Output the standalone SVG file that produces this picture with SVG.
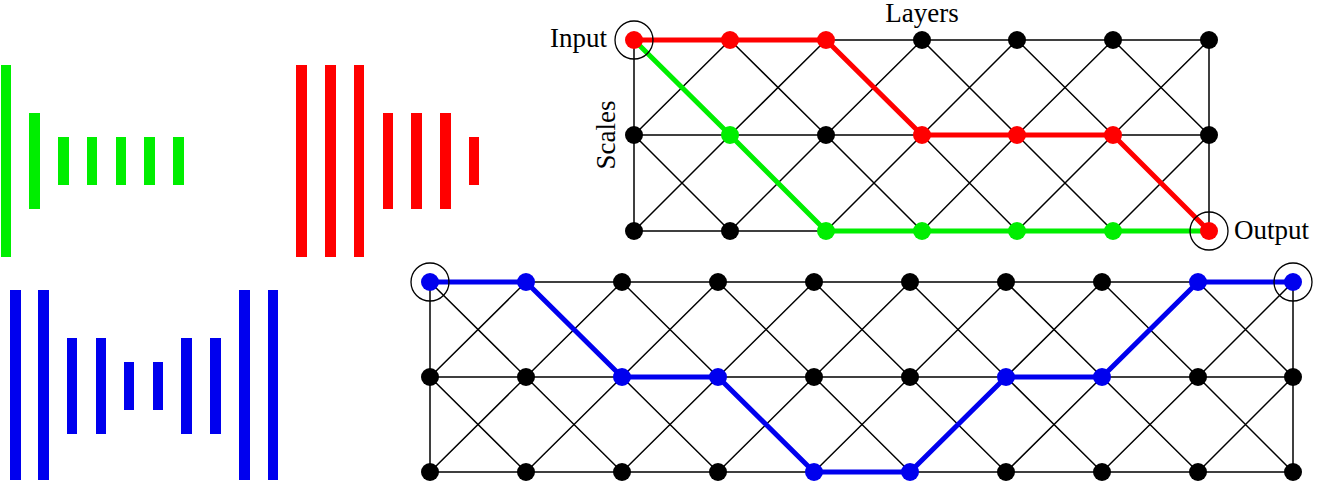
<svg xmlns="http://www.w3.org/2000/svg" width="1329" height="485" viewBox="0 0 1329 485">
<style>
.g{fill:#00ee00}.r{fill:#ff0000}.b{fill:#0000ee}.k{fill:#000}
.ln{fill:none;stroke:#000;stroke-width:1.5}
.ring{fill:none;stroke:#000;stroke-width:1.3}
.pr{fill:none;stroke:#ff0000;stroke-width:5;stroke-linejoin:round}
.pg{fill:none;stroke:#00ee00;stroke-width:5;stroke-linejoin:round}
.pb{fill:none;stroke:#0000ee;stroke-width:5;stroke-linejoin:round}
text{font-family:"Liberation Serif",serif;font-size:27px;fill:#000}
</style>
<g id="bars-green" class="g">
<rect x="1" y="65" width="10" height="192"/><rect x="29" y="113" width="11" height="96"/>
<rect x="58" y="137" width="11" height="48"/><rect x="87" y="137" width="10" height="48"/><rect x="116" y="137" width="10" height="48"/><rect x="144" y="137" width="11" height="48"/><rect x="173" y="137" width="11" height="48"/>
</g>
<g id="bars-red" class="r">
<rect x="296" y="65" width="11" height="192"/><rect x="325" y="65" width="11" height="192"/><rect x="354" y="65" width="10" height="192"/>
<rect x="383" y="113" width="10" height="96"/><rect x="411" y="113" width="11" height="96"/><rect x="440" y="113" width="11" height="96"/>
<rect x="469" y="137" width="10" height="48"/>
</g>
<g id="bars-blue" class="b">
<rect x="10" y="290" width="11" height="190"/><rect x="38" y="290" width="11" height="190"/>
<rect x="67" y="338" width="10" height="96"/><rect x="96" y="338" width="10" height="96"/>
<rect x="124" y="362" width="10" height="48"/><rect x="153" y="362" width="10" height="48"/>
<rect x="181" y="338" width="11" height="96"/><rect x="210" y="338" width="11" height="96"/>
<rect x="239" y="290" width="11" height="190"/><rect x="268" y="290" width="10" height="190"/>
</g>
<g id="connectors">
<path class="ln" d="M634 40H1209M634 135H1209M634 231H1209M634 40V231M1209 40V231
M634 40L730 135L826 40L922 135L1017 40L1113 135L1209 40
M634 135L730 40L826 135L922 40L1017 135L1113 40L1209 135
M634 135L730 231L826 135L922 231L1017 135L1113 231L1209 135
M634 231L730 135L826 231L922 135L1017 231L1113 135L1209 231"/>
<path class="ln" d="M430 282H1293M430 377H1293M430 472H1293M430 282V472M1293 282V472
M430 282L526 377L622 282L718 377L814 282L910 377L1006 282L1102 377L1198 282L1293 377
M430 377L526 282L622 377L718 282L814 377L910 282L1006 377L1102 282L1198 377L1293 282
M430 377L526 472L622 377L718 472L814 377L910 472L1006 377L1102 472L1198 377L1293 472
M430 472L526 377L622 472L718 377L814 472L910 377L1006 472L1102 377L1198 472L1293 377"/>
<path class="pg" d="M634 40L730 135L826 231L1209 231"/>
<path class="pr" d="M634 40L826 40L922 135L1113 135L1209 231"/>
<path class="pb" d="M430 282L526 282L622 377L718 377L814 472L910 472L1006 377L1102 377L1198 282L1293 282"/>
</g>
<g id="nodes-top">
<circle class="r" cx="634" cy="40" r="9"/><circle class="r" cx="730" cy="40" r="9"/><circle class="r" cx="826" cy="40" r="9"/><circle class="k" cx="922" cy="40" r="9"/><circle class="k" cx="1017" cy="40" r="9"/><circle class="k" cx="1113" cy="40" r="9"/><circle class="k" cx="1209" cy="40" r="9"/>
<circle class="k" cx="634" cy="135" r="9"/><circle class="g" cx="730" cy="135" r="9"/><circle class="k" cx="826" cy="135" r="9"/><circle class="r" cx="922" cy="135" r="9"/><circle class="r" cx="1017" cy="135" r="9"/><circle class="r" cx="1113" cy="135" r="9"/><circle class="k" cx="1209" cy="135" r="9"/>
<circle class="k" cx="634" cy="231" r="9"/><circle class="k" cx="730" cy="231" r="9"/><circle class="g" cx="826" cy="231" r="9"/><circle class="g" cx="922" cy="231" r="9"/><circle class="g" cx="1017" cy="231" r="9"/><circle class="g" cx="1113" cy="231" r="9"/><circle class="r" cx="1209" cy="231" r="9"/>
<circle class="ring" cx="634" cy="40" r="19"/><circle class="ring" cx="1209" cy="231" r="19"/>
</g>
<g id="nodes-bottom">
<circle class="b" cx="430" cy="282" r="9"/><circle class="b" cx="526" cy="282" r="9"/><circle class="k" cx="622" cy="282" r="9"/><circle class="k" cx="718" cy="282" r="9"/><circle class="k" cx="814" cy="282" r="9"/><circle class="k" cx="910" cy="282" r="9"/><circle class="k" cx="1006" cy="282" r="9"/><circle class="k" cx="1102" cy="282" r="9"/><circle class="b" cx="1198" cy="282" r="9"/><circle class="b" cx="1293" cy="282" r="9"/>
<circle class="k" cx="430" cy="377" r="9"/><circle class="k" cx="526" cy="377" r="9"/><circle class="b" cx="622" cy="377" r="9"/><circle class="b" cx="718" cy="377" r="9"/><circle class="k" cx="814" cy="377" r="9"/><circle class="k" cx="910" cy="377" r="9"/><circle class="b" cx="1006" cy="377" r="9"/><circle class="b" cx="1102" cy="377" r="9"/><circle class="k" cx="1198" cy="377" r="9"/><circle class="k" cx="1293" cy="377" r="9"/>
<circle class="k" cx="430" cy="472" r="9"/><circle class="k" cx="526" cy="472" r="9"/><circle class="k" cx="622" cy="472" r="9"/><circle class="k" cx="718" cy="472" r="9"/><circle class="b" cx="814" cy="472" r="9"/><circle class="b" cx="910" cy="472" r="9"/><circle class="k" cx="1006" cy="472" r="9"/><circle class="k" cx="1102" cy="472" r="9"/><circle class="k" cx="1198" cy="472" r="9"/><circle class="k" cx="1293" cy="472" r="9"/>
<circle class="ring" cx="430" cy="282" r="19"/><circle class="ring" cx="1293" cy="282" r="19"/>
</g>
<g id="labels">
<text x="607" y="47" text-anchor="end">Input</text>
<text x="922" y="22" text-anchor="middle">Layers</text>
<text transform="translate(615 135) rotate(-90)" text-anchor="middle">Scales</text>
<text x="1234" y="239">Output</text>
</g>
</svg>
